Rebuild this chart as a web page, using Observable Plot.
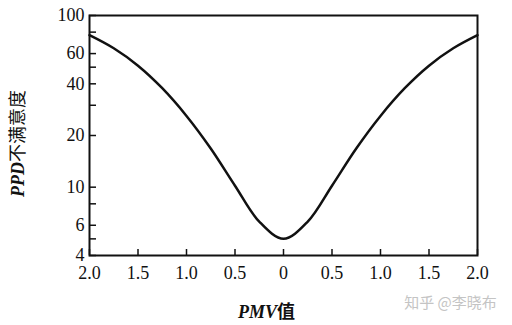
<!DOCTYPE html>
<html><head><meta charset="utf-8">
<script src="https://cdn.jsdelivr.net/npm/d3@7"></script>
<script src="https://cdn.jsdelivr.net/npm/@observablehq/plot@0.6"></script>
<style>body{margin:0;background:#fff} svg{display:block}</style>
</head><body><div id="chart"></div>
<script>
const pmv = [-2,-1.75,-1.5,-1.25,-1,-0.75,-0.5,-0.25,0,0.25,0.5,0.75,1,1.25,1.5,1.75,2];
const ppd = [76.8,64.4,51,37.7,26,16.8,10.2,6.3,5,6.3,10.2,16.8,26,37.7,51,64.4,76.8];
const xTicks = [-2,-1.5,-1,-0.5,0,0.5,1,1.5,2];
const yLabelTicks = [4,6,10,20,40,60,100];
const yMinorTicks = [4,5,6,8,10,20,30,40,50,60,80,100];
const xLabel = "PMV值";
const yLabel = "PPD不满意度";
const watermark = "知乎 @李晓布";

const data = pmv.map((x,i)=>({x, y: ppd[i]}));
const font = "'Liberation Serif','Times New Roman','Noto Sans CJK SC',serif";

const chart = Plot.plot({
  width: 512, height: 325,
  marginLeft: 89, marginRight: 35, marginTop: 15, marginBottom: 70,
  style: {fontFamily: font, fontSize: "18px", color: "#111", background: "#fff"},
  x: {type: "linear", domain: [-2, 2]},
  y: {type: "log", domain: [4, 100]},
  marks: [
    Plot.axisY({ticks: yMinorTicks, tickSize: -7, tickFormat: () => "", label: null, strokeWidth: 1.5}),
    Plot.axisY({ticks: yLabelTicks, tickSize: 0, tickPadding: 5, tickFormat: d => String(d), label: null}),
    Plot.axisX({ticks: xTicks, tickSize: -6, tickFormat: () => "", label: null, strokeWidth: 1.5}),
    Plot.axisX({ticks: xTicks, tickSize: 0, tickPadding: 11, tickFormat: d => d === 0 ? "0" : Math.abs(d).toFixed(1), label: null}),
    Plot.frame({stroke: "#111", strokeWidth: 2}),
    Plot.line(data, {x: "x", y: "y", curve: "catmull-rom", stroke: "#111", strokeWidth: 2.5}),
    Plot.text([xLabel], {frameAnchor: "bottom", textAnchor: "middle", lineAnchor: "middle", dx: -17, dy: 57, fontSize: 18, fontWeight: "bold", fill: "#111"}),
    Plot.text([yLabel], {frameAnchor: "left", textAnchor: "middle", lineAnchor: "middle", rotate: -90, dx: -71, dy: 8, fontSize: 18, fill: "#111"}),
    Plot.text([watermark], {frameAnchor: "bottom-right", textAnchor: "middle", lineAnchor: "middle", dx: -27, dy: 48, fontSize: 15, fill: "#c4c4c4", fontFamily: "'Noto Sans CJK SC',sans-serif"})
  ]
});
document.getElementById("chart").append(chart);

// rich text for axis labels (italic Latin part)
d3.select(chart).selectAll("text").each(function(){
  const t = this.textContent;
  if (t === xLabel || t === yLabel) {
    const sel = d3.select(this);
    sel.text(null);
    const latin = t === xLabel ? "PMV" : "PPD";
    sel.append("tspan").attr("font-style","italic").attr("font-weight","bold").text(latin);
    sel.append("tspan").attr("font-family","'Noto Sans CJK SC',sans-serif").attr("font-weight", t === xLabel ? "bold" : "normal").text(t.slice(3));
  }
});
</script>
</body></html>
